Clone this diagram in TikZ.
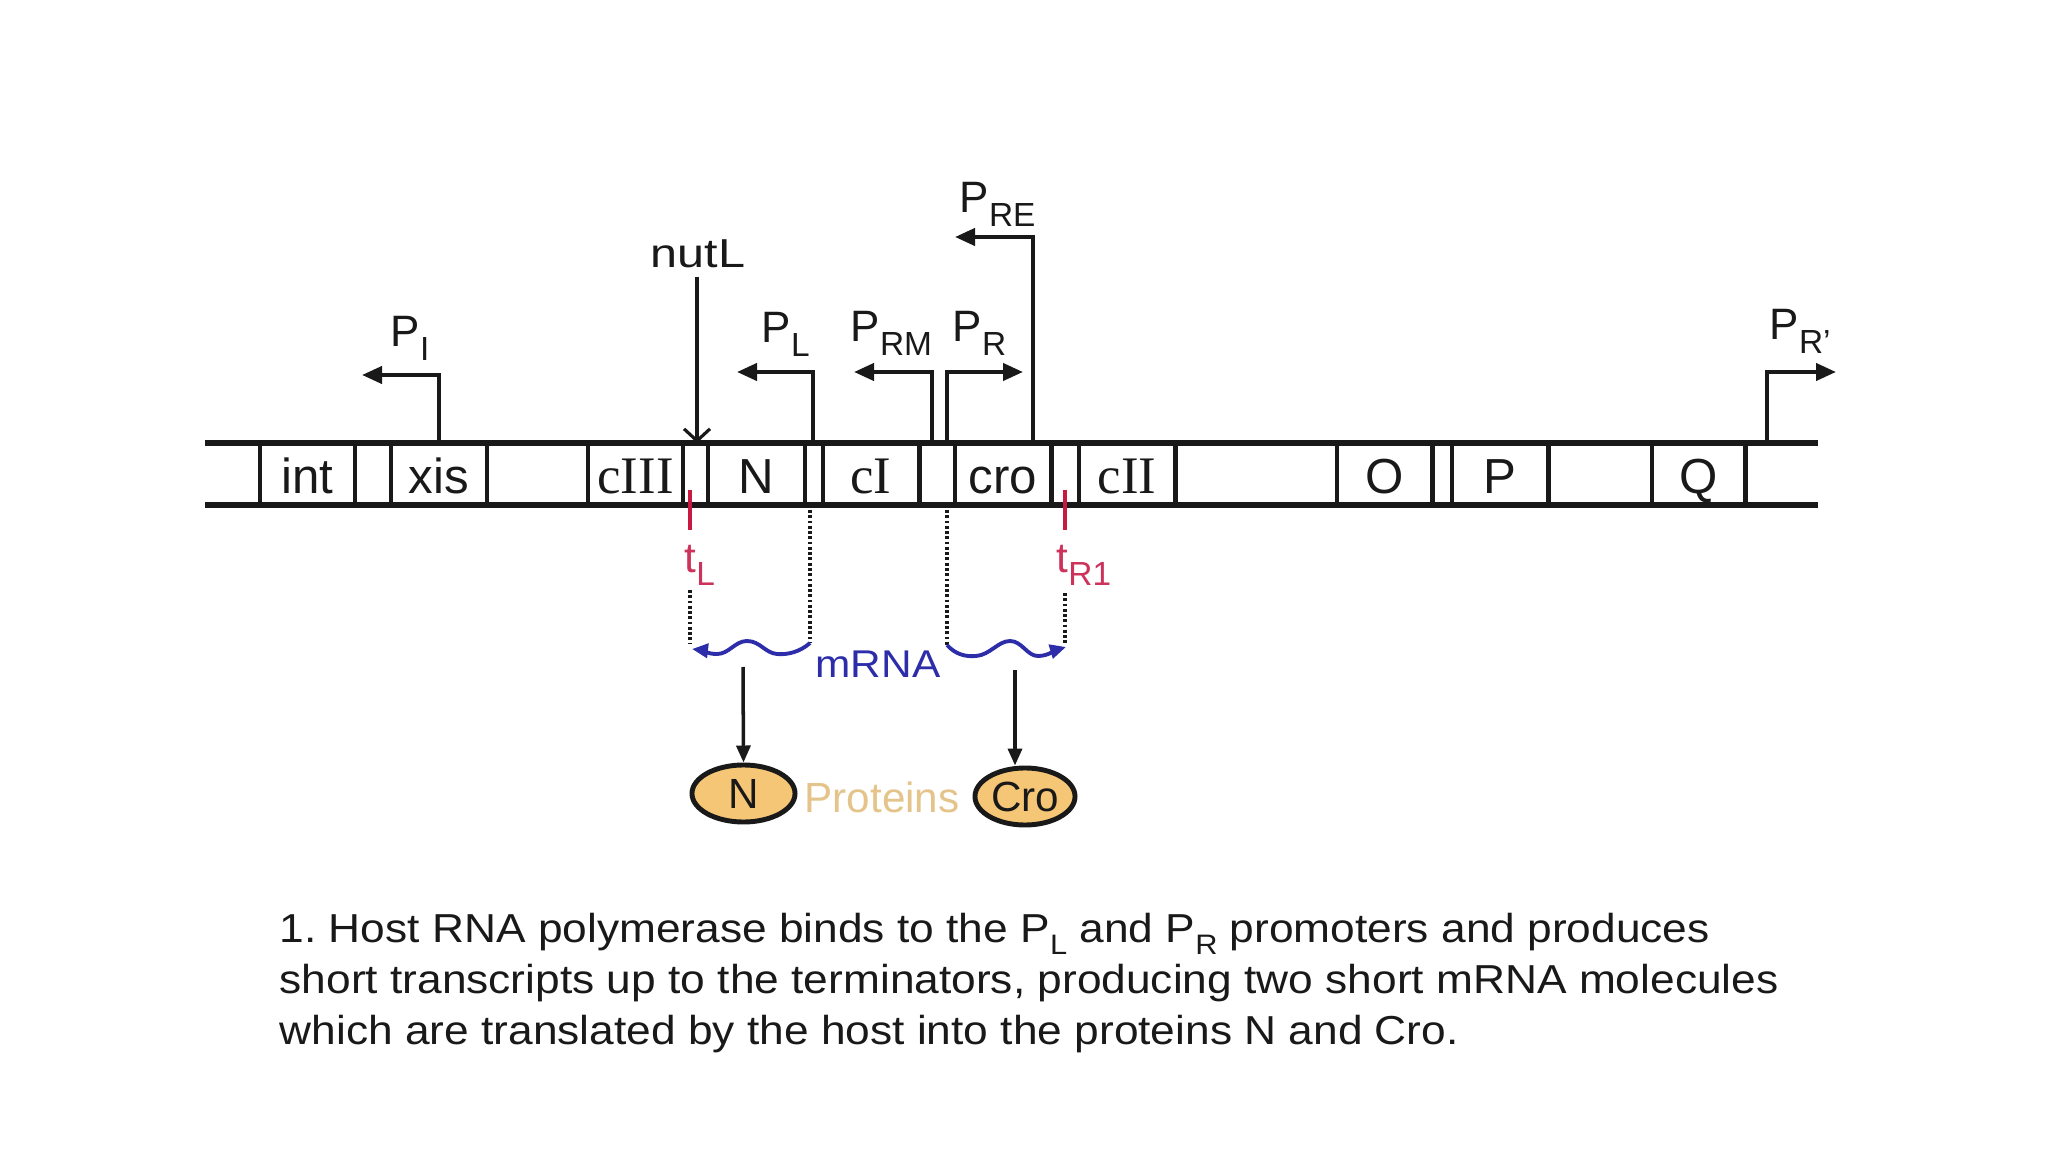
\documentclass[tikz,border=0pt]{standalone}
\usepackage{fontspec}
\setmainfont{Liberation Sans}
\newfontfamily\capfont{Liberation Sans}[FakeStretch=1.095]
\newfontfamily\nutfont{Liberation Sans}[FakeStretch=1.2]
\newfontfamily\serifgene{Liberation Serif}
\usetikzlibrary{arrows.meta,shapes.geometric}
\definecolor{tred}{RGB}{200,25,65}
\definecolor{tlab}{RGB}{205,50,90}
\definecolor{mblue}{RGB}{45,45,170}
\definecolor{protfill}{RGB}{244,198,118}
\definecolor{prottext}{RGB}{228,196,138}
\definecolor{inkc}{RGB}{25,25,25}
\newcommand{\lsub}[2]{\raisebox{-0.3em}{\fontsize{#1}{#1}\selectfont #2}}
\frenchspacing
\begin{document}
\begin{tikzpicture}[x=0.01cm,y=-0.01cm,
  dna/.style={line width=1.45pt, draw=inkc},
  gene/.style={draw=inkc, line width=1.4pt, rectangle, minimum height=0.62cm,
    inner sep=0pt, text height=0.38cm, text depth=0pt, text=inkc,
    font=\fontsize{14}{14}\selectfont},
  sgene/.style={gene, font=\serifgene\fontsize{15}{15}\selectfont},
  plab/.style={anchor=base west, inner sep=0pt, text=inkc, font=\fontsize{12.5}{12.5}\selectfont},
  prom/.style={draw=inkc, line width=1.15pt, -{Triangle[length=0.2cm,width=0.17cm]}},
  nutarr/.style={draw=inkc, line width=0.9pt, -{Straight Barb[length=0.12cm,width=0.26cm]}},
  tickm/.style={draw=tred, line width=1.3pt},
  tlabel/.style={anchor=base west, inner sep=0pt, text=tlab, font=\fontsize{12}{12}\selectfont},
  dotl/.style={draw=inkc, line width=1.4pt, dash pattern=on 0.8pt off 0.7pt},
  mrna/.style={draw=mblue, line width=1.1pt, -{Triangle[length=0.16cm,width=0.14cm]}},
  downarr/.style={draw=inkc, line width=1pt, -{Triangle[length=0.17cm,width=0.14cm]}},
  prot/.style={ellipse, draw=inkc, line width=1.4pt, fill=protfill, inner sep=0pt,
    text=inkc, font=\fontsize{12}{12}\selectfont},
  captext/.style={anchor=base west, inner sep=0pt, text=inkc, font=\capfont\fontsize{11.5}{11.5}\selectfont}
]
\fill[white] (0,0) rectangle (2048,1152);
\path[use as bounding box] (0,0) rectangle (2048,1152);

% DNA strands
\coordinate (dTL) at (205,443);
\coordinate (dTR) at (1818,443);
\coordinate (dBL) at (205,505);
\coordinate (dBR) at (1818,505);
\draw[dna] (dTL) -- (dTR);
\draw[dna] (dBL) -- (dBR);

% genes
\node[gene, minimum width=0.95cm] (int) at (307.5,474) {int};
\node[gene, minimum width=0.96cm] (xis) at (439,474) {xis};
\node[sgene, minimum width=0.95cm] (cIII) at (635.5,474) {cIII};
\node[gene, minimum width=0.97cm] (Ngene) at (756.5,474) {N};
\node[sgene, minimum width=0.96cm] (cI) at (871,474) {cI};
\node[gene, minimum width=0.96cm] (cro) at (1003,474) {cro};
\node[sgene, minimum width=0.96cm] (cII) at (1127,474) {cII};
\node[gene, minimum width=0.95cm] (O) at (1384.5,474) {O};
\node[gene, minimum width=0.96cm] (Pgene) at (1500,474) {P};
\node[gene, minimum width=0.93cm] (Q) at (1698.5,474) {Q};

% promoters
\coordinate (pI0) at (439,443);  \coordinate (pI1) at (362,375);
\coordinate (pL0) at (813,443);  \coordinate (pL1) at (737,372);
\coordinate (pRM0) at (932,443); \coordinate (pRM1) at (854,372);
\coordinate (pR0) at (947,443);  \coordinate (pR1) at (1023,372);
\coordinate (pRE0) at (1033,443); \coordinate (pRE1) at (955,237);
\coordinate (pRp0) at (1767,443); \coordinate (pRp1) at (1836,372);
\draw[prom] (pI0) |- (pI1);
\draw[prom] (pL0) |- (pL1);
\draw[prom] (pRM0) |- (pRM1);
\draw[prom] (pR0) |- (pR1);
\draw[prom] (pRE0) |- (pRE1);
\draw[prom] (pRp0) |- (pRp1);

\node[plab] (lPI) at (390,347) {P\lsub{9.5}{I}};
\node[plab] (lPL) at (761,343) {P\lsub{9.5}{L}};
\node[plab] (lPRM) at (850,342) {P\lsub{9.5}{RM}};
\node[plab] (lPR) at (952,342) {P\lsub{9.5}{R}};
\node[plab] (lPRE) at (959,213) {P\lsub{9.5}{RE}};
\node[plab] (lPRp) at (1769,340) {P\lsub{9.5}{R'}};

% nutL
\node[anchor=base west, inner sep=0pt, text=inkc, font=\nutfont\fontsize{11.5}{11.5}\selectfont] (nutL) at (650,268) {nutL};
\coordinate (nut0) at (697,277);
\coordinate (nut1) at (697,443);
\draw[nutarr] (nut0) -- (nut1);

% terminators
\coordinate (tk1a) at (690,490); \coordinate (tk1b) at (690,530);
\coordinate (tk2a) at (1065,490); \coordinate (tk2b) at (1065,530);
\draw[tickm] (tk1a) -- (tk1b);
\draw[tickm] (tk2a) -- (tk2b);
\node[tlabel] (tL) at (684,573) {t\lsub{9.5}{L}};
\node[tlabel] (tR1) at (1056,573) {t\lsub{9.5}{R1}};

% dotted guides
\coordinate (dl0) at (690,590);  \coordinate (dl1) at (690,643);
\coordinate (dn0) at (810,510);  \coordinate (dn1) at (810,643);
\coordinate (dc0) at (947,510);  \coordinate (dc1) at (947,645);
\coordinate (dr0) at (1065,593); \coordinate (dr1) at (1065,645);
\draw[dotl] (dl0) -- (dl1);
\draw[dotl] (dn0) -- (dn1);
\draw[dotl] (dc0) -- (dc1);
\draw[dotl] (dr0) -- (dr1);

% mRNA waves
\coordinate (wl0) at (810,643); \coordinate (wl1) at (692,649);
\coordinate (wr0) at (947,645); \coordinate (wr1) at (1066,647);
\draw[mrna] (wl0) .. controls (800,652) and (787,655) .. (777,654)
  .. controls (765,653) and (760,641) .. (747,641)
  .. controls (735,641) and (729,654) .. (717,654)
  .. controls (707,654) and (701,650) .. (wl1);
\draw[mrna] (wr0) .. controls (955,654) and (965,657) .. (976,656)
  .. controls (990,655) and (998,641) .. (1010,641)
  .. controls (1022,641) and (1027,656) .. (1038,656)
  .. controls (1048,656) and (1056,650) .. (wr1);
\node[anchor=base west, inner sep=0pt, text=mblue, font=\capfont\fontsize{11}{11}\selectfont] (mrnalab) at (815,677) {mRNA};

% proteins
\node[prot, minimum width=1.03cm, minimum height=0.57cm] (Nprot) at (743.5,793.5) {N};
\node[prot, minimum width=1.00cm, minimum height=0.57cm] (Crop) at (1025,796.5) {Cro};
\node[anchor=base west, inner sep=0pt, text=prottext, font=\fontsize{12}{12}\selectfont] (protlab) at (804,812) {Proteins};
\coordinate (aN) at (743,667);
\coordinate (aC) at (1015,670);
\draw[downarr] (aN) -- (Nprot.north);
\draw[downarr] (aC) -- (aC |- Crop.north);

% caption
\node[captext] (cap1) at (279,942) {1. Host RNA polymerase binds to the P\lsub{8}{L} and P\lsub{8}{R} promoters and produces};
\node[captext] (cap2) at (279,993) {short transcripts up to the terminators, producing two short mRNA molecules};
\node[captext] (cap3) at (279,1044) {which are translated by the host into the proteins N and Cro.};
\end{tikzpicture}
\end{document}
